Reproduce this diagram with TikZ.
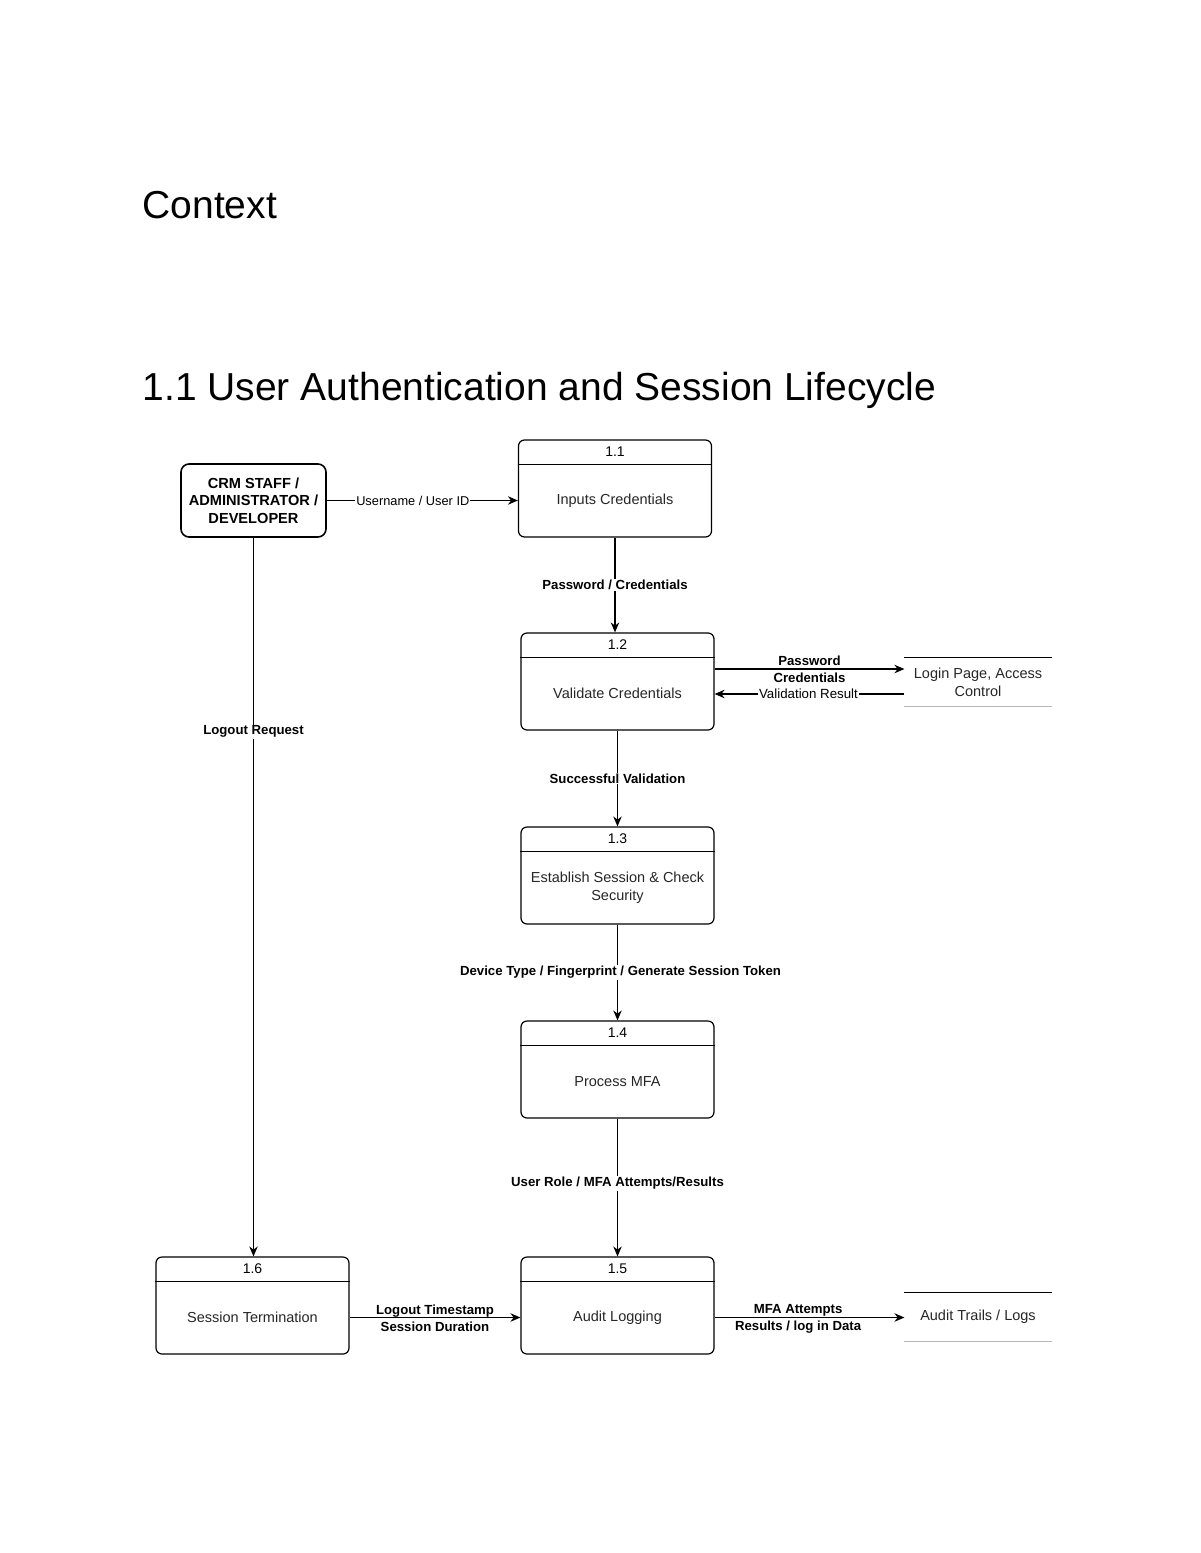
\documentclass[tikz,border=0pt]{standalone}
\usepackage{fontspec}
\setmainfont{Liberation Sans}
\usetikzlibrary{arrows.meta,positioning}

\tikzset{
  proc/.style={draw,rounded corners=6,minimum width=193,minimum height=97,line width=1.2,inner sep=0},
  actor/.style={draw,rounded corners=8,minimum width=145,minimum height=73,line width=1.6,align=center,
    font=\fontsize{14.6}{17.5}\selectfont\bfseries},
  hdrtxt/.style={anchor=center,yshift=-12.5,font=\fontsize{14}{17}\selectfont},
  bodytxt/.style={anchor=center,yshift=-12,align=center,font=\fontsize{14.5}{18}\selectfont,text=black!85},
  store/.style={minimum width=146,minimum height=48,align=center,font=\fontsize{14.5}{18}\selectfont,text=black!85},
  lbl/.style={font=\fontsize{12.8}{17}\selectfont,align=center,inner sep=1},
  blbl/.style={lbl,font=\fontsize{13.2}{17}\selectfont\bfseries},
  title/.style={anchor=base west,inner sep=0,font=\fontsize{39}{47}\selectfont}
}

\begin{document}
\begin{tikzpicture}[x=1pt,y=1pt,->,>={Stealth[length=10pt,width=8.5pt]},line width=1.2,node distance=194]
        \useasboundingbox (0,0) rectangle (1200,-1553);
        \node[title] (ctx) at (142,-218) {Context};
        \node[title] (sec) at (142,-400) {1.1 User Authentication and Session Lifecycle};

        \node[actor] (crm) at (253.5,-500.5) {CRM STAFF /\\ADMINISTRATOR /\\DEVELOPER};
        \node[proc,label={[hdrtxt]north:1.1},label={[bodytxt]center:Inputs Credentials}] (p11) at (615,-488.5) {};
        \node[proc,label={[hdrtxt]north:1.2},label={[bodytxt]center:Validate Credentials}] (p12) [below of=p11,xshift=2.5,node distance=193] {};
        \node[proc,label={[hdrtxt]north:1.3},label={[bodytxt]center:Establish Session \& Check\\Security}] (p13) [below of=p12] {};
        \node[proc,label={[hdrtxt]north:1.4},label={[bodytxt]center:Process MFA}] (p14) [below of=p13] {};
        \node[proc,label={[hdrtxt]north:1.5},label={[bodytxt]center:Audit Logging}] (p15) [below of=p14,node distance=236] {};
        \node[proc,label={[hdrtxt]north:1.6},label={[bodytxt]center:Session Termination}] (p16) [left of=p15,node distance=365] {};
        \node[store] (login) [right of=p12,node distance=360.5,yshift=-0.5] {Login Page, Access\\Control};
        \node[store] (audit) [right of=p15,node distance=360.5,yshift=-11.5] {Audit Trails / Logs};

        % header bars and store edges
        \foreach \p in {p11,p12,p13,p14,p15,p16}
            \draw[-] ([yshift=-25]\p.north west) -- ([yshift=-25]\p.north east);
        \foreach \s in {login,audit} {
            \draw[-] (\s.north west) -- (\s.north east);
            \draw[-,gray!55,line width=1] (\s.south west) -- (\s.south east);
        }

        \draw (crm.east) -- node[lbl,fill=white,pos=0.45] {Username / User ID} (crm.east -| p11.west);
        \draw (p11.south) -- node[blbl,fill=white] {Password / Credentials} (p11.south |- p12.north);
        \draw ([yshift=12.5]p12.east) -- node[blbl,yshift=-0.5] {Password\\Credentials} ([yshift=12.5]p12.east -| login.west);
        \draw ([yshift=-12.5]p12.east -| login.west) -- node[lbl,fill=white,xshift=-1,font=\fontsize{13.3}{17}\selectfont] {Validation Result} ([yshift=-12.5]p12.east);
        \draw (p12) -- node[blbl,fill=white] {Successful Validation} (p13);
        \draw (p13) -- node[blbl,fill=white,xshift=3] {Device Type / Fingerprint / Generate Session Token} (p14);
        \draw (p14) -- node[blbl,fill=white,pos=0.47] {User Role / MFA Attempts/Results} (p15);
        \draw (crm.south) -- node[blbl,fill=white,pos=0.27] {Logout Request} (crm.south |- p16.north);
        \draw ([yshift=-12]p16.east) -- node[blbl,yshift=-1] {Logout Timestamp\\Session Duration} ([yshift=-12]p16.east -| p15.west);
        \draw ([yshift=-12]p15.east) -- node[blbl,pos=0.44,yshift=-1] {MFA Attempts\\Results / log in Data} ([yshift=-12]p15.east -| audit.west);
\end{tikzpicture}
\end{document}
